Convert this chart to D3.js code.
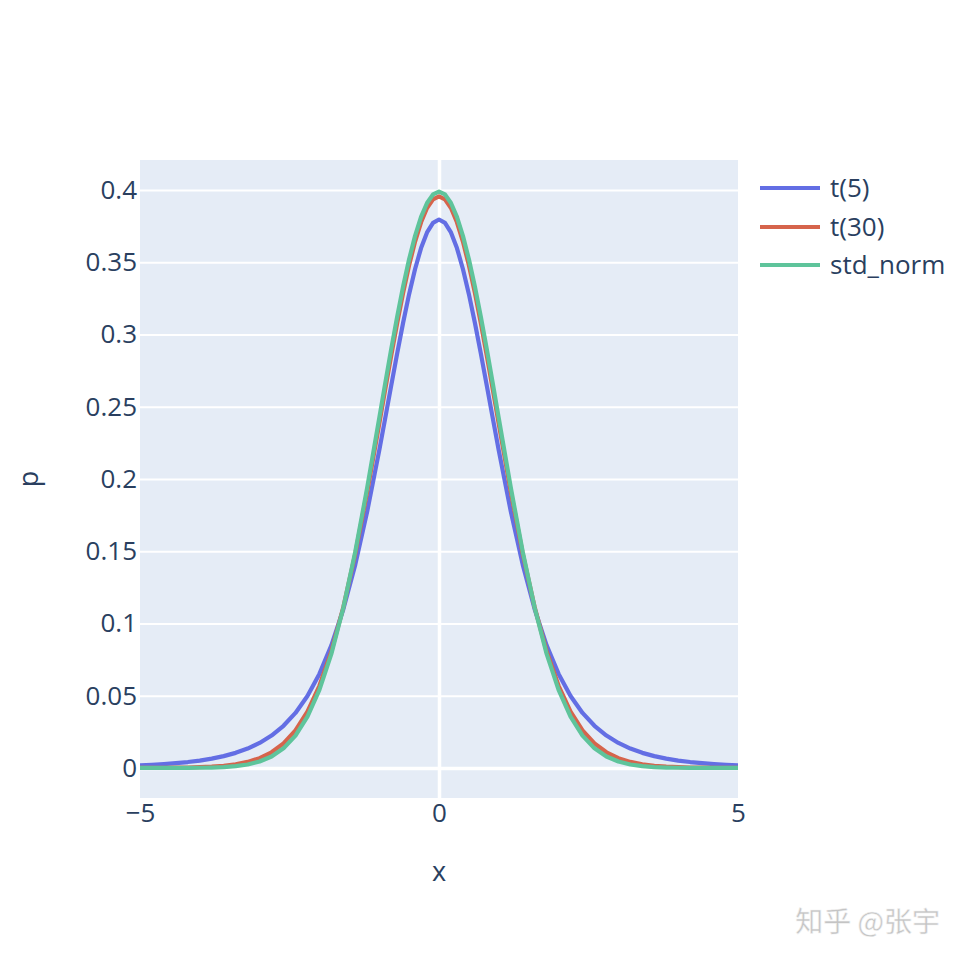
<!DOCTYPE html>
<html>
<head>
<meta charset="utf-8">
<script src="https://cdn.jsdelivr.net/npm/d3@7"></script>
<style>
  html, body { margin: 0; padding: 0; background: #fff; }
  svg { display: block; }
  text { font-family: "Open Sans", "Noto Sans", sans-serif; }
</style>
</head>
<body>
<div id="chart"></div>
<script>
// x positions (half, mirrored to full range)
const xHalf = [0, 0.1, 0.2, 0.3, 0.4, 0.5, 0.6, 0.7, 0.8, 0.9, 1.0, 1.2, 1.4, 1.6, 1.8, 2.0, 2.2, 2.4, 2.6, 2.8, 3.0, 3.2, 3.4, 3.6, 3.8, 4.0, 4.2, 4.4, 4.6, 4.8, 5.0];
const t5Half = [0.37961, 0.37734, 0.37064, 0.35983, 0.34538, 0.32792, 0.30814, 0.28677, 0.26449, 0.24194, 0.21968, 0.17766, 0.14074, 0.10982, 0.08481, 0.06509, 0.04980, 0.03809, 0.02918, 0.02242, 0.01729, 0.01341, 0.01045, 0.00819, 0.00646, 0.00512, 0.00409, 0.00328, 0.00265, 0.00215, 0.00176];
const t30Half = [0.39563, 0.39359, 0.38754, 0.37768, 0.36432, 0.34788, 0.32885, 0.30777, 0.28523, 0.26180, 0.23799, 0.19129, 0.14834, 0.11118, 0.08071, 0.05686, 0.03895, 0.02600, 0.01696, 0.01083, 0.00678, 0.00417, 0.00253, 0.00151, 0.00090, 0.00052, 0.00031, 0.00018, 0.00010, 0.00006, 0.00003];
const normHalf = [0.39894, 0.39695, 0.39104, 0.38139, 0.36827, 0.35207, 0.33322, 0.31225, 0.28969, 0.26609, 0.24197, 0.19419, 0.14973, 0.11092, 0.07895, 0.05399, 0.03547, 0.02239, 0.01358, 0.00792, 0.00443, 0.00238, 0.00123, 0.00061, 0.00029, 0.00013, 0.00006, 0.00003, 0.00001, 0.000004, 0.0000015];

const seriesNames = ["t(5)", "t(30)", "std_norm"];
const seriesColors = ["#636ee4", "#d6644c", "#5ec49b"];
const xTicks = [-5, 0, 5];
const xTickLabels = ["\u22125", "0", "5"];
const yTicks = [0, 0.05, 0.1, 0.15, 0.2, 0.25, 0.3, 0.35, 0.4];
const yTickLabels = ["0", "0.05", "0.1", "0.15", "0.2", "0.25", "0.3", "0.35", "0.4"];

function mirror(xs, ys) {
  const pts = [];
  for (let i = xs.length - 1; i > 0; i--) pts.push([-xs[i], ys[i]]);
  for (let i = 0; i < xs.length; i++) pts.push([xs[i], ys[i]]);
  return pts;
}
const series = [
  { name: seriesNames[0], color: seriesColors[0], pts: mirror(xHalf, t5Half) },
  { name: seriesNames[1], color: seriesColors[1], pts: mirror(xHalf, t30Half) },
  { name: seriesNames[2], color: seriesColors[2], pts: mirror(xHalf, normHalf) }
];

const W = 966, H = 960;
const plot = { left: 140, right: 738, top: 160, bottom: 798 };
const FS = 26;

const svg = d3.select("#chart").append("svg").attr("width", W).attr("height", H);

const x = d3.scaleLinear().domain([-5, 5]).range([plot.left, plot.right]);
const y = d3.scaleLinear().domain([-0.0208, 0.4208]).range([plot.bottom, plot.top]);

svg.append("rect")
  .attr("x", plot.left).attr("y", plot.top)
  .attr("width", plot.right - plot.left).attr("height", plot.bottom - plot.top)
  .attr("fill", "#E5ECF6");

// gridlines
const yGrid = d3.axisLeft(y).tickValues(yTicks).tickSize(-(plot.right - plot.left)).tickFormat("");
const gy = svg.append("g").attr("transform", `translate(${plot.left},0)`).call(yGrid);
gy.select(".domain").remove();
gy.selectAll("line").attr("stroke", "#fff").attr("stroke-width", d => d === 0 ? 3.5 : 2);

const xGrid = d3.axisBottom(x).tickValues([0]).tickSize(-(plot.bottom - plot.top)).tickFormat("");
const gx = svg.append("g").attr("transform", `translate(0,${plot.bottom})`).call(xGrid);
gx.select(".domain").remove();
gx.selectAll("line").attr("stroke", "#fff").attr("stroke-width", 3.5);

// tick labels via axes
const yAxis = d3.axisLeft(y).tickValues(yTicks).tickSize(0).tickPadding(3)
  .tickFormat((d, i) => yTickLabels[i]);
const ya = svg.append("g").attr("transform", `translate(${plot.left},0)`).call(yAxis);
ya.select(".domain").remove();
ya.selectAll("text").attr("fill", "#2a3f5f").style("font-size", FS + "px")
  .style("font-family", '"Open Sans", sans-serif');

const xAxis = d3.axisBottom(x).tickValues(xTicks).tickSize(0).tickPadding(6)
  .tickFormat((d, i) => xTickLabels[i]);
const xa = svg.append("g").attr("transform", `translate(0,${plot.bottom})`).call(xAxis);
xa.select(".domain").remove();
xa.selectAll("text").attr("fill", "#2a3f5f").style("font-size", FS + "px")
  .style("font-family", '"Open Sans", sans-serif');

// lines
const clipId = "clip";
svg.append("clipPath").attr("id", clipId).append("rect")
  .attr("x", plot.left).attr("y", plot.top)
  .attr("width", plot.right - plot.left).attr("height", plot.bottom - plot.top);
const line = d3.line().x(d => x(d[0])).y(d => y(d[1]));
svg.append("g").attr("clip-path", `url(#${clipId})`)
  .selectAll("path").data(series).join("path")
  .attr("d", d => line(d.pts))
  .attr("fill", "none")
  .attr("stroke", d => d.color)
  .attr("stroke-width", 4.2)
  .attr("stroke-linejoin", "round");

// axis titles
svg.append("text").attr("x", (plot.left + plot.right) / 2).attr("y", 881)
  .attr("text-anchor", "middle").attr("fill", "#2a3f5f").style("font-size", "27px").text("x");
svg.append("text").attr("transform", `translate(38,${(plot.top + plot.bottom) / 2}) rotate(-90)`)
  .attr("text-anchor", "middle").attr("fill", "#2a3f5f").style("font-size", "27px").text("p");

// legend
const lg = svg.append("g").attr("transform", "translate(760,0)");
const rowsY = [188, 227, 265];
series.forEach((s, i) => {
  lg.append("line").attr("x1", 0).attr("x2", 60).attr("y1", rowsY[i]).attr("y2", rowsY[i])
    .attr("stroke", s.color).attr("stroke-width", 4.2);
  lg.append("text").attr("x", 70).attr("y", rowsY[i]).attr("dy", "0.35em")
    .attr("fill", "#2a3f5f").style("font-size", FS + "px").text(s.name);
});

// watermark
svg.append("text").attr("x", 940).attr("y", 932).attr("text-anchor", "end")
  .attr("fill", "#c4c4c4").attr("stroke", "#f4f4f4").attr("stroke-width", 0.5)
  .style("font-family", '"Noto Sans CJK SC", sans-serif').style("font-size", "28px")
  .text("知乎 @张宇");
</script>
</body>
</html>
